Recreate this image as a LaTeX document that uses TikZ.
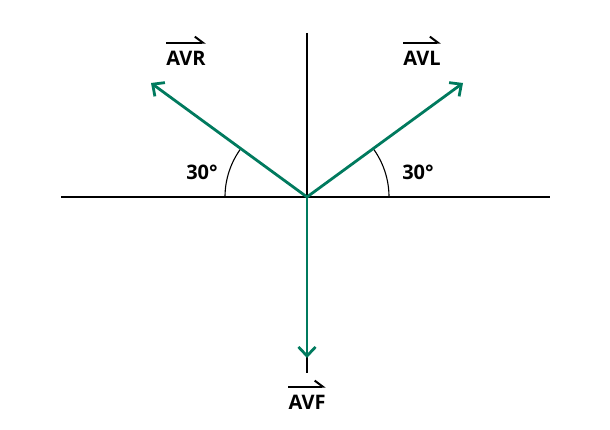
\documentclass[tikz,border=0pt]{standalone}
\usepackage{fontspec}
\setmainfont{Open Sans}
\usetikzlibrary{arrows.meta, calc}
\definecolor{leadgreen}{RGB}{0,122,94}
\tikzset{%
	axis/.style={draw, line width=1.2pt, black},
	vec/.style={draw, line width=2.8pt, leadgreen, -{Straight Barb[length=9pt, width=17pt, line width=2.8pt]}},
	ang/.style={draw, line width=1.1pt, black},
	lbl/.style={font=\fontsize{20}{24}\selectfont\bfseries, inner sep=0pt},
	lead/.style={lbl},
	overvec/.style={draw, line width=2pt, black, -{Straight Barb[harpoon, length=8pt, width=12pt, line width=2pt]}}
}
\begin{document}
\begin{tikzpicture}[x=1pt, y=1pt]
	\useasboundingbox (0,0) rectangle (610,429);
	\coordinate (O) at (307,232);
	\coordinate (h-l) at (61,232);
	\coordinate (h-r) at (550,232);
	\coordinate (v-t) at (307,396);
	\coordinate (v-b) at (307,56);
	\coordinate (avr) at (151,346);
	\coordinate (avl) at (463,346);
	\coordinate (avf) at (307,71);

	% axes
	\draw [axis] (h-l) -- (h-r);
	\draw [axis] (v-t) -- (v-b);

	% angle marks
	\draw [ang] ($(O)+(180:82)$) arc[start angle=180, end angle=143.84, radius=82];
	\draw [ang] ($(O)+(0:82)$) arc[start angle=0, end angle=36.16, radius=82];
	\node[lbl] (a-l) at (202,257) {30°};
	\node[lbl] (a-r) at (418,257) {30°};

	% lead vectors
	\draw [vec] (O) -- (avr);
	\draw [vec] (O) -- (avl);
	\draw [vec] (O) -- (avf);

	\node[lead] (t-avr) at (186,371) {AVR};
	\node[lead] (t-avl) at (422,371) {AVL};
	\node[lead] (t-avf) at (307,27) {AVF};
	\foreach \t in {t-avr, t-avl, t-avf}
		\draw [overvec] ($(\t.north west)+(0,8)$) -- ($(\t.north east)+(0,8)$);
\end{tikzpicture}
\end{document}
